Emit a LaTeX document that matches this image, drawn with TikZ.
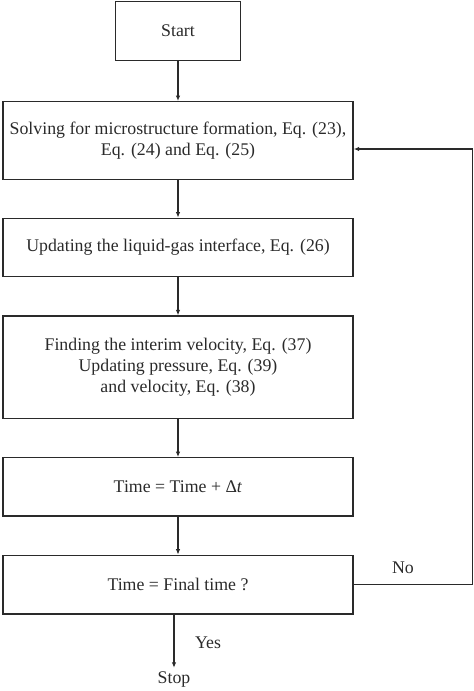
\documentclass[tikz,border=0pt]{standalone}
\usepackage{fontspec}
\setmainfont{Liberation Serif}
\usetikzlibrary{arrows.meta}
\definecolor{ink}{HTML}{2A2A2A}
\begin{document}
\begin{tikzpicture}[x=1pt,y=-1pt,
  every node/.style={font=\fontsize{17.8}{21}\selectfont, text=ink},
  stepbox/.style={draw=ink, line width=1.4pt, minimum width=350pt, align=center, inner sep=0pt},
  conn/.style={draw=ink, line width=1.1pt, -{Latex[length=5.5pt,width=4.5pt]}},
  lbl/.style={inner sep=0pt}]
\useasboundingbox (0,0) rectangle (474,691);
\node[stepbox, minimum width=124.6pt, minimum height=58.8pt] (start) at (178,31) {Start};
\node[stepbox, minimum height=77.6pt] (b2) at (178,140.5) {Solving for microstructure formation, Eq. (23),\\Eq. (24) and Eq. (25)};
\node[stepbox, minimum height=58.4pt] (b3) at (178,247.5) {Updating the liquid-gas interface, Eq. (26)};
\node[stepbox, minimum height=102.3pt] (b4) at (178,367.2) {Finding the interim velocity, Eq. (37)\\Updating pressure, Eq. (39)\\and velocity, Eq. (38)};
\node[stepbox, minimum height=58.3pt] (b5) at (178,486.9) {Time = Time + Δ\textit{t}};
\node[stepbox, minimum height=58.7pt] (b6) at (178,584.7) {Time = Final time ?};
\node[lbl, text height=12pt, text depth=4pt, inner sep=3pt] (stop) at (174,679) {Stop};
\node[lbl] (yes) at (208,643) {Yes};
\node[lbl] (no) at (403,568) {No};
\coordinate (c1) at (472.3,584.7);
\coordinate (c2) at (472.3,149);
\draw[conn] (start.south) -- (b2.north);
\draw[conn] (b2.south) -- (b3.north);
\draw[conn] (b3.south) -- (b4.north);
\draw[conn] (b4.south) -- (b5.north);
\draw[conn] (b5.south) -- (b6.north);
\draw[conn] (b6.south -| stop.north) -- (stop.north);
\draw[conn] (b6.east) -- (c1) -- (c2) -- (b2.east |- c2);
\end{tikzpicture}
\end{document}
